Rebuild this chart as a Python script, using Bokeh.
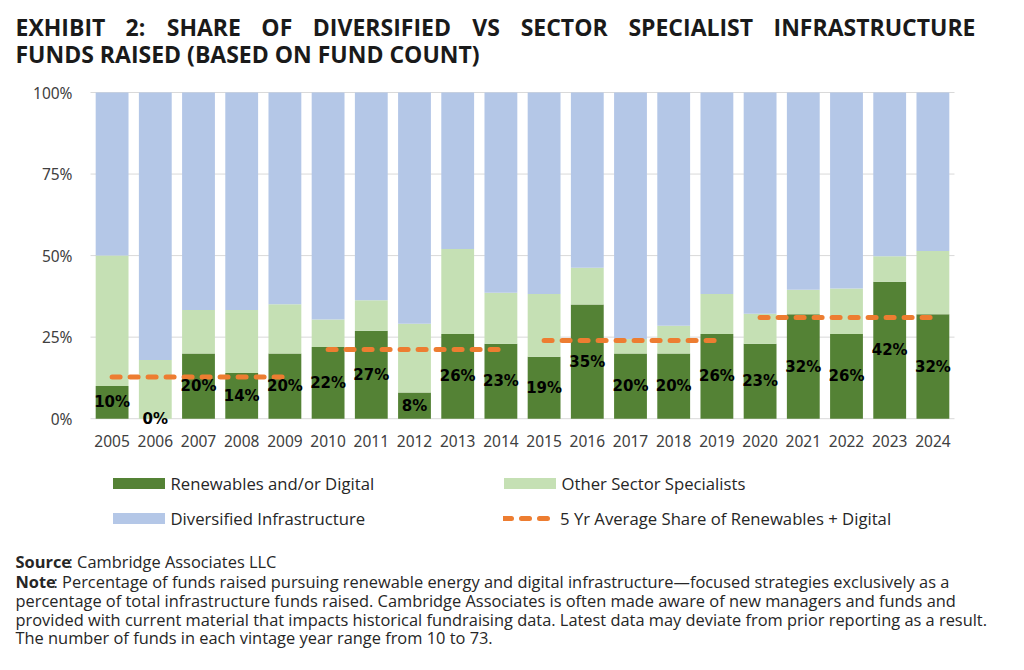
from bokeh.plotting import figure
from bokeh.models import (ColumnDataSource, Range1d, FixedTicker, LinearAxis,
                          PrintfTickFormatter, Legend, LegendItem, Label)
from bokeh.core.properties import value
from bokeh.embed import file_html
from bokeh.resources import INLINE

# values (percent of funds raised)
years = [str(y) for y in range(2005, 2025)]
renewables = [10, 0, 20, 14, 20, 22, 27, 8, 26, 23, 19, 35, 20, 20, 26, 23, 32, 26, 42, 32]
other_specialists = [40, 18, 13.3, 19.3, 15.1, 8.4, 9.3, 21.1, 26, 15.6,
                     19.2, 11.3, 4.4, 8.5, 12.2, 9.2, 7.5, 13.9, 7.8, 19.4]
diversified = [50, 82, 66.7, 66.7, 64.9, 69.6, 63.7, 70.9, 48, 61.4,
               61.8, 53.7, 75.6, 71.5, 61.8, 67.8, 60.5, 60.1, 50.2, 48.6]
avg_start = ["2005", "2010", "2015", "2020"]
avg_end = ["2009", "2014", "2019", "2024"]
avg_share = [12.8, 21.2, 24.0, 31.0]
y_ticks = [0, 25, 50, 75, 100]

title_lines = [
    "EXHIBIT 2: SHARE OF DIVERSIFIED VS SECTOR SPECIALIST INFRASTRUCTURE",
    "FUNDS RAISED (BASED ON FUND COUNT)",
]
source_text = ": Cambridge Associates LLC"
note_lines = [
    ": Percentage of funds raised pursuing renewable energy and digital infrastructure\u2014focused strategies exclusively as a",
    "percentage of total infrastructure funds raised. Cambridge Associates is often made aware of new managers and funds and",
    "provided with current material that impacts historical fundraising data. Latest data may deviate from prior reporting as a result.",
    "The number of funds in each vintage year range from 10 to 73.",
]

DARK_GREEN = "#548235"
LIGHT_GREEN = "#C5E0B4"
BLUE = "#B4C7E7"
ORANGE = "#ED7D31"
GRID = "#D9D9D9"
FONT = "Open Sans"
TEXT_COLOR = "#262626"
TITLE_SIZE = 23
NOTE_SIZE = "16.4px"

# rough Open Sans Bold advance widths (em), used to justify the first title line
BOLD_EM = {"A": .668, "B": .659, "C": .621, "D": .712, "E": .557, "F": .541,
           "H": .734, "I": .342, "L": .558, "N": .768, "O": .777, "P": .633,
           "R": .66, "S": .551, "T": .566, "U": .729, "V": .635, "X": .635,
           "2": .572, ":": .30}

# page geometry (pixels); the frame covers the whole canvas so that
# title, legend and notes can sit anywhere on it
W, H = 1016, 662
PLOT_LEFT, PLOT_RIGHT, PLOT_TOP, ZERO_Y = 90, 954, 92, 418.2
px_per_pct = (ZERO_Y - PLOT_TOP) / 100
slot = (PLOT_RIGHT - PLOT_LEFT) / len(years)

xpos = list(range(len(years)))
src = ColumnDataSource(dict(
    x=xpos,
    renew=renewables,
    other=other_specialists,
    div=diversified,
    label_y=[v / 2 for v in renewables],
    label=[f"{v}%" for v in renewables],
))
avg_src = ColumnDataSource(dict(x0=[years.index(y) for y in avg_start],
                                x1=[years.index(y) for y in avg_end],
                                y=avg_share))
grid_src = ColumnDataSource(dict(y=y_ticks,
                                 x0=[-0.5] * len(y_ticks),
                                 x1=[len(years) - 0.5] * len(y_ticks)))

p = figure(width=W, height=H, title=None,
           x_range=Range1d(-PLOT_LEFT / slot - 0.5, (W - PLOT_LEFT) / slot - 0.5),
           y_range=Range1d(-(H - ZERO_Y) / px_per_pct, ZERO_Y / px_per_pct),
           x_axis_location=None, y_axis_location=None,
           output_backend="svg", toolbar_location=None, min_border=0)
p.grid.visible = False
p.outline_line_color = None

p.segment(x0="x0", y0="y", x1="x1", y1="y", source=grid_src,
          line_color=GRID, line_width=1)
bars = p.vbar_stack(["renew", "other", "div"], x="x", width=0.76,
                    fill_color=[DARK_GREEN, LIGHT_GREEN, BLUE], line_color=None,
                    source=src)
avg = p.segment(x0="x0", y0="y", x1="x1", y1="y", source=avg_src,
                line_color=ORANGE, line_width=5, line_dash="8 10", line_cap="round")
p.text(x="x", y="label_y", text="label", source=src,
       text_font=value("DejaVu Sans"), text_font_style="bold",
       text_font_size="15px", text_color="black",
       text_align="center", text_baseline="middle")

# axes pinned to the chart area
xaxis = LinearAxis(ticker=FixedTicker(ticks=xpos),
                   major_label_overrides={i: y for i, y in zip(xpos, years)},
                   fixed_location=-3)
yaxis = LinearAxis(ticker=FixedTicker(ticks=y_ticks),
                   formatter=PrintfTickFormatter(format="%d%%"),
                   fixed_location=-0.5)
for ax in (xaxis, yaxis):
    ax.axis_line_color = None
    ax.major_tick_line_color = None
    ax.minor_tick_line_color = None
    ax.major_tick_out = 0
    ax.major_tick_in = 0
    ax.major_label_text_font = "Noto Sans"
    ax.major_label_text_font_size = "15.5px"
    ax.major_label_text_color = "#404040"
xaxis.major_label_standoff = 7
yaxis.major_label_standoff = 18
p.add_layout(xaxis, "below")
p.add_layout(yaxis, "left")


# legend: two columns, one small legend per entry
def add_entry(label, renderer, x, y, gw, standoff):
    leg = Legend(items=[LegendItem(label=label, renderers=[renderer])],
                 location=(x, y), orientation="vertical",
                 glyph_width=gw, glyph_height=14, label_height=21,
                 label_standoff=standoff, padding=0, margin=0,
                 label_text_font=FONT, label_text_font_size="16.7px",
                 label_text_color=TEXT_COLOR,
                 border_line_color=None, background_fill_alpha=0)
    p.add_layout(leg, "center")


add_entry("Renewables and/or Digital", bars[0], 105.5, H - 494.8, 65, 0)
add_entry("Diversified Infrastructure", bars[2], 105.5, H - 529.8, 65, 0)
add_entry("Other Sector Specialists", bars[1], 496.5, H - 494.8, 65, 0)
add_entry("5 Yr Average Share of Renewables + Digital", avg, 503, H - 529.8, 49, 8)


# title and notes, placed by their baseline (page y from the top)
def add_text(text, x, baseline, size, bold=False, color=TEXT_COLOR, align="left"):
    p.add_layout(Label(x=x, y=H - baseline, x_units="screen", y_units="screen",
                       text=text, text_font=FONT, text_font_size=size,
                       text_font_style="bold" if bold else "normal",
                       text_color=color, text_align=align,
                       text_baseline="alphabetic"))


# first title line justified between x=15 and x=975
words = title_lines[0].split()
widths = [sum(BOLD_EM.get(c, .6) for c in w) * TITLE_SIZE * 1.013 for w in words]
gap = (975 - 15 - sum(widths)) / (len(words) - 1)
x = 15
for i, (w, wd) in enumerate(zip(words, widths)):
    if i == len(words) - 1:
        add_text(w, 975, 26.5, f"{TITLE_SIZE}px", bold=True, color="#1a1a1a", align="right")
    else:
        add_text(w, x, 26.5, f"{TITLE_SIZE}px", bold=True, color="#1a1a1a")
    x += wd + gap
add_text(title_lines[1], 15, 53.5, f"{TITLE_SIZE}px", bold=True, color="#1a1a1a")

add_text("Source", 15, 561, NOTE_SIZE, bold=True)
add_text(source_text, 68, 561, NOTE_SIZE)
add_text("Note", 15, 581, NOTE_SIZE, bold=True)
add_text(note_lines[0], 53, 581, NOTE_SIZE)
add_text(note_lines[1], 15, 599.7, NOTE_SIZE)
add_text(note_lines[2], 15, 618.5, NOTE_SIZE)
add_text(note_lines[3], 15, 637.3, NOTE_SIZE)

open("out.html", "w").write(file_html(p, INLINE))
